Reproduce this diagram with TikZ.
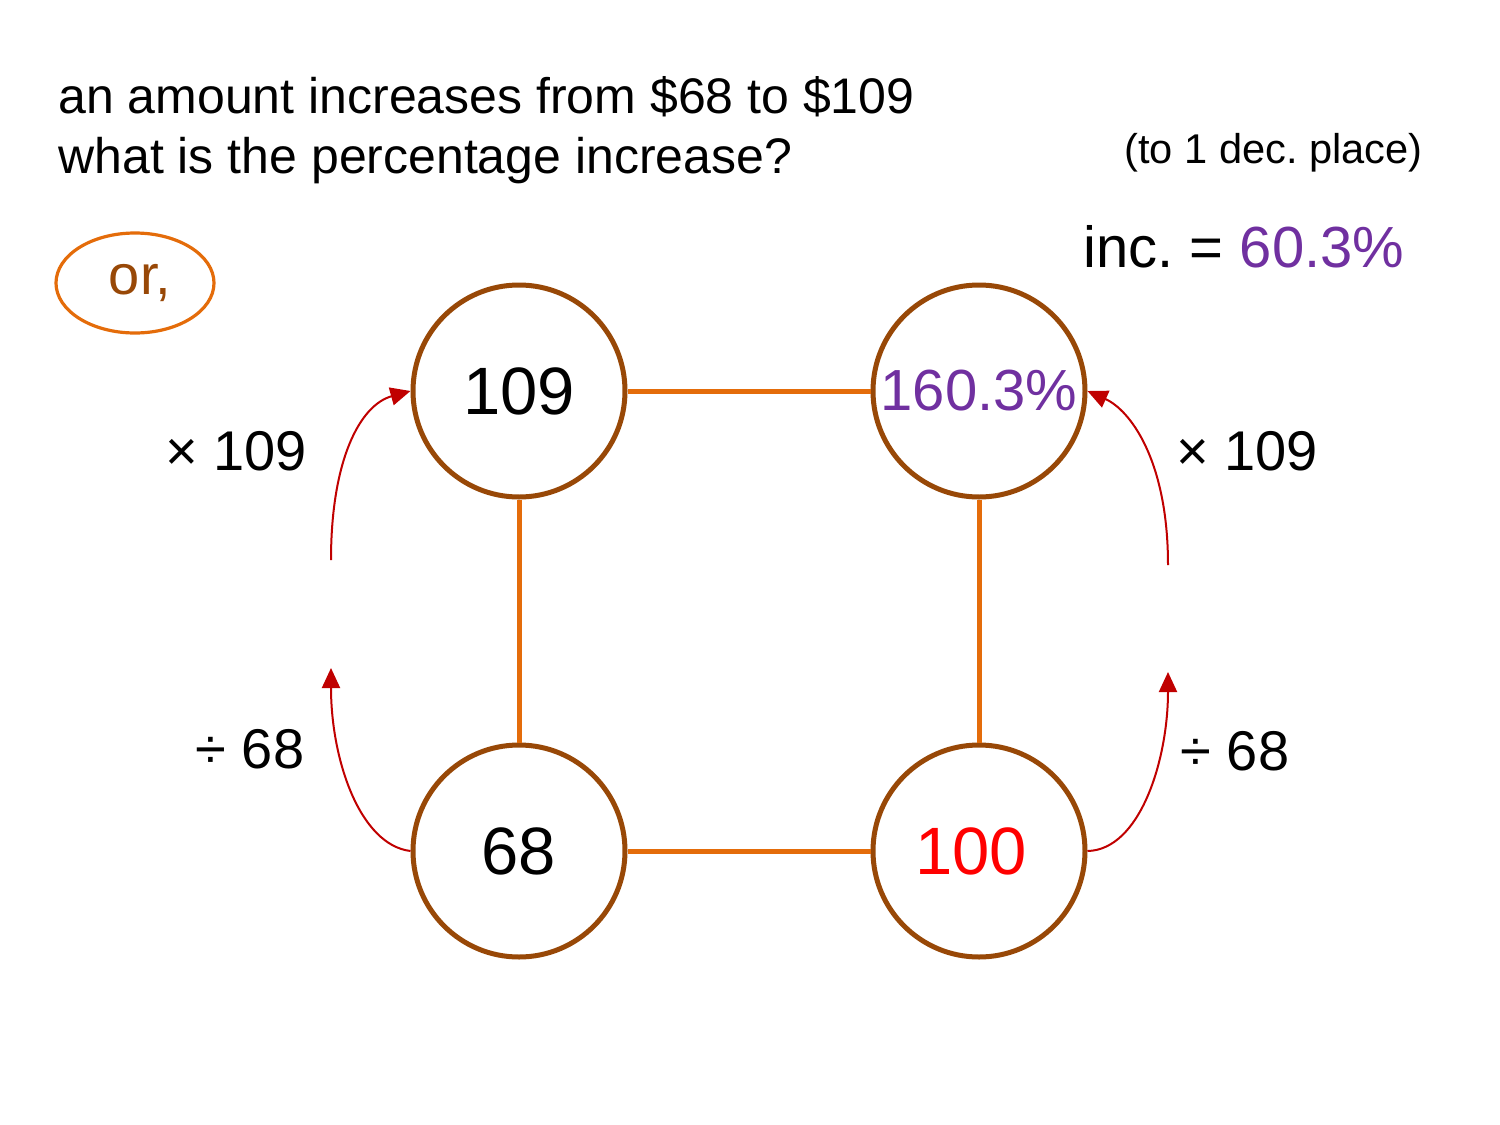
\documentclass[tikz,border=0pt]{standalone}
\usepackage{fontspec}
\setmainfont{Liberation Sans}
\usetikzlibrary{arrows.meta,shapes.geometric}
\frenchspacing
\definecolor{ringbrown}{HTML}{984807}
\definecolor{linkorange}{HTML}{E46C0A}
\definecolor{arrred}{HTML}{C00000}
\definecolor{numpurple}{HTML}{7030A0}
\definecolor{numred}{HTML}{FF0000}
\tikzset{
  ring/.style={circle,draw=ringbrown,line width=2.5pt,minimum size=106pt,inner sep=0pt,font=\fontsize{33.5}{38}\selectfont},
  link/.style={draw=linkorange,line width=2.5pt},
  arr/.style={draw=arrred,line width=1pt,-{Triangle[length=10pt,width=9pt]}},
  lbl/.style={font=\fontsize{28}{32}\selectfont,anchor=base,inner sep=0pt},
  title/.style={font=\fontsize{25}{30}\selectfont,anchor=base west,inner sep=0pt}
}
\begin{document}
\begin{tikzpicture}[x=0.5pt,y=-0.5pt]
\useasboundingbox (0,0) rectangle (1500,1125);
\node[title] (t1) at (58,113) {an amount increases from \$68 to \$109};
\node[title] (t2) at (58,173) {what is the percentage increase?};
\node[font=\fontsize{20.8}{24}\selectfont,anchor=base east,inner sep=0pt] (dp) at (1423,163) {(to 1 dec. place)};
\node[font=\fontsize{29}{33}\selectfont,anchor=base west,inner sep=0pt] (inc) at (1083,267) {inc. = \textcolor{numpurple}{60.3\%}};
\node[ellipse,draw=linkorange,line width=1.6pt,minimum width=79pt,minimum height=50pt,inner sep=0pt,text=ringbrown,font=\fontsize{28}{32}\selectfont] (or) at (135,283) {\hspace{5pt}\raisebox{-1.5pt}{or,}};
\node[ring] (a) at (519,391) {109};
\node[ring,text=numpurple,font=\fontsize{29}{33}\selectfont] (b) at (979,391) {160.3\%};
\node[ring] (c) at (519,851) {68};
\node[ring,text=numred] (d) at (979,851) {100\rule{8pt}{0pt}};
\draw[link] (a) -- (b);
\draw[link] (a) -- (c);
\draw[link] (b) -- (d);
\draw[link] (c) -- (d);
\coordinate (lt) at (331,560);
\coordinate (lb) at (331,668);
\coordinate (rt) at (1168,565);
\coordinate (rb) at (1168,672);
\draw[arr] (lt) .. controls (331,460) and (360,405) .. (a.west);
\draw[arr] (c.west) .. controls (360,845) and (331,760) .. (lb);
\draw[arr] (d.east) .. controls (1140,850) and (1168,760) .. (rb);
\draw[arr] (rt) .. controls (1168,460) and (1130,410) .. (b.east);
\node[lbl] (m1) at (236,470) {× 109};
\node[lbl] (d1) at (250,768) {÷ 68};
\node[lbl] (m2) at (1247,470) {× 109};
\node[lbl] (d2) at (1235,770) {÷ 68};
\end{tikzpicture}
\end{document}
